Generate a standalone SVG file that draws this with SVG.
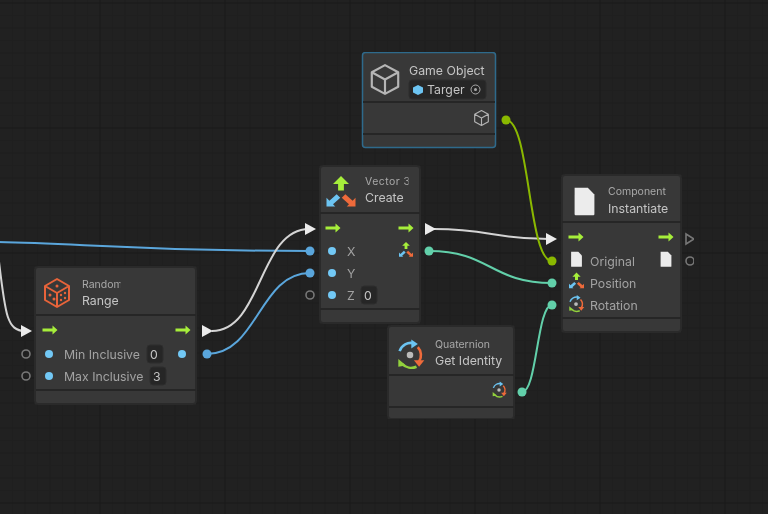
<svg xmlns="http://www.w3.org/2000/svg" width="768" height="514" viewBox="0 0 768 514">
<defs>
<style>
.bg{fill:#212121}
.node{fill:#393939;stroke:#2a2a2a;stroke-width:2}
.div{stroke:#252525;stroke-width:2}
.t{font-family:"Inter","Liberation Sans",sans-serif;fill:#c4c4c4;font-size:12.3px}
.s{font-family:"Inter","Liberation Sans",sans-serif;fill:#a8a8a8;font-size:10.5px}
.l{font-family:"Inter","Liberation Sans",sans-serif;fill:#a2a2a2;font-size:12.3px}
.box{fill:#272727;stroke:#2e2e2e}
.wire{fill:none;stroke-width:2}
.port{fill:#72c8f5}
.open{fill:none;stroke:#777;stroke-width:1.600}
.minor{stroke:#1f1f1f;stroke-width:1}
.major{stroke:#1b1b1b;stroke-width:1}
</style>
<filter id="soft" x="0" y="0" width="100%" height="100%"><feGaussianBlur stdDeviation="0.35"/></filter>
<clipPath id="clipV"><rect x="360" y="170" width="48.500" height="40"/></clipPath>
<clipPath id="clipR"><rect x="78" y="272" width="42.500" height="40"/></clipPath>
<g id="flow"><path d="M-7.500-1.500H2.500V-4.500L7.500 0L2.500 4.500V1.500H-7.500Z" fill="#a6ee3a"/></g>
<g id="v3"><path d="M0-10L-5.500-4.500H-2V0H2V-4.500H5.500Z" fill="#a6ee3a"/><path d="M-10 11V5L-8 7L-3 2.500L-.5 5L-5.500 9.500L-4 11Z" fill="#6cc4f2"/><path d="M10 11V5L8 7L3 2.500L.5 5L5.500 9.500L4 11Z" fill="#ee6a3a"/></g>
<g id="quat"><path d="M-8-3A9 9 0 0 1 3-9" fill="none" stroke="#6cc4f2" stroke-width="2"/><path d="M1-12L6-8.500L1-5Z" fill="#6cc4f2"/><path d="M6-6A9 9 0 0 1 7 5" fill="none" stroke="#ee6a3a" stroke-width="2"/><path d="M3 4L7 9L11 4Z" fill="#ee6a3a"/><path d="M5 9A10 10 0 0 1-6 7" fill="none" stroke="#92d13c" stroke-width="2"/><path d="M-9 3L-9 9L-3 8Z" fill="#92d13c"/><circle r="2.500" fill="#bbb"/></g>
<path id="doc" d="M-9-12H3L9-6V12Q9 13 8 13H-8Q-9 13-9 12Z" fill="#ececec"/>
<g id="cube" fill="none" stroke="#b5b5b5" stroke-linejoin="round"><path d="M0-12L11-6V6L0 12L-11 6V-6ZM-11-6L0 0L11-6M0 0V12"/></g>
</defs>
<rect class="bg" width="768" height="514"/>
<path class="minor" d="M12.500 0V514M25 0V514M37.500 0V514M50 0V514M62.500 0V514M75 0V514M87.500 0V514M112.500 0V514M125 0V514M137.500 0V514M150 0V514M162.500 0V514M175 0V514M187.500 0V514M200 0V514M212.500 0V514M237.500 0V514M250 0V514M262.500 0V514M275 0V514M287.500 0V514M300 0V514M312.500 0V514M325 0V514M337.500 0V514M362.500 0V514M375 0V514M387.500 0V514M400 0V514M412.500 0V514M425 0V514M437.500 0V514M450 0V514M462.500 0V514M487.500 0V514M500 0V514M512.500 0V514M525 0V514M537.500 0V514M550 0V514M562.500 0V514M575 0V514M587.500 0V514M612.500 0V514M625 0V514M637.500 0V514M650 0V514M662.500 0V514M675 0V514M687.500 0V514M700 0V514M712.500 0V514M737.500 0V514M750 0V514M762.500 0V514M0 15.500H768M0 28H768M0 40.500H768M0 53H768M0 65.500H768M0 78H768M0 90.500H768M0 103H768M0 115.500H768M0 140.500H768M0 153H768M0 165.500H768M0 178H768M0 190.500H768M0 203H768M0 215.500H768M0 228H768M0 240.500H768M0 265.500H768M0 278H768M0 290.500H768M0 303H768M0 315.500H768M0 328H768M0 340.500H768M0 353H768M0 365.500H768M0 390.500H768M0 403H768M0 415.500H768M0 428H768M0 440.500H768M0 453H768M0 465.500H768M0 478H768M0 490.500H768"/>
<path class="major" d="M100 0V514M225 0V514M350 0V514M475 0V514M600 0V514M725 0V514M0 3H768M0 128H768M0 253H768M0 378H768M0 503H768"/>
<g filter="url(#soft)">
<g id="connectors">
<path class="wire" stroke="#5aa6dc" d="M-2 242C80 243 130 251 310 251"/>
<path class="wire" stroke="#d4d4d4" d="M-3 245C5 310 5 331 25 331"/>
<path class="wire" stroke="#d4d4d4" d="M212 331C262 331 259 229 309 229"/>
<path class="wire" stroke="#5aa6dc" d="M207 354C258 354 259 273 310 273"/>
<path class="wire" stroke="#d4d4d4" d="M434 229C490 229 493 239 549 239"/>
<path class="wire" stroke="#62d0aa" d="M429 251C490 251 491 283 552 283"/>
<path class="wire" stroke="#8ab800" d="M506 120C530 120 528 261 552 261"/>
<path class="wire" stroke="#62d0aa" d="M522 392C537 392 537 305 552 305"/>
<g fill="#ebebeb"><path d="M21 325L32 331L21 337Z"/><path d="M202 325L213 331L202 337Z"/><path d="M305 223L316 229L305 235Z"/><path d="M425 223L436 229L425 235Z"/><path d="M546 233L557 239L546 245Z"/></g>
<g fill="#5aa6dc"><circle cx="310" cy="251" r="4.500"/><circle cx="310" cy="273" r="4.500"/><circle cx="207" cy="354" r="4.500"/></g>
<g fill="#62d0aa"><circle cx="429" cy="251" r="4.500"/><circle cx="552" cy="283" r="4.500"/><circle cx="552" cy="305" r="4.500"/><circle cx="522" cy="392" r="4.500"/></g>
<g fill="#8ab800"><circle cx="506" cy="120" r="4.500"/><circle cx="552" cy="261" r="4.500"/></g>
<g><circle class="open" cx="26" cy="354" r="4"/><circle class="open" cx="26" cy="376" r="4"/><circle class="open" cx="310" cy="295" r="4"/><circle class="open" cx="690" cy="261" r="4"/><path class="open" d="M686 234L694 239L686 244Z"/></g>
</g>
<g id="node-gameobject">
<rect x="362.500" y="52.500" width="133" height="95" rx="3" fill="#393939" stroke="#2f6a8c" stroke-width="1.500"/>
<path class="div" d="M363 102H495M363 134H495"/>
<use href="#cube" transform="translate(385 79.500) scale(1.200)" stroke-width="1.800"/>
<text class="t" x="409" y="75">Game Object</text>
<rect class="box" x="409" y="80" width="77" height="19" rx="3"/>
<path d="M418 85L423 87.500V92.500L418 95L413 92.500V87.500Z" fill="#6cc4f2"/>
<text class="t" x="427" y="94">Targer</text>
<circle cx="475.500" cy="89.500" r="4.500" fill="none" stroke="#a8a8a8"/><circle cx="475.500" cy="89.500" r="1.500" fill="#a8a8a8"/>
<use href="#cube" transform="translate(481.500 118) scale(.62)" stroke-width="1.800"/>
</g>
<g id="node-vector3">
<rect class="node" x="320" y="166" width="100" height="157" rx="3"/>
<path class="div" d="M320 213H420M320 309H420"/>
<use href="#v3" transform="translate(341 190.500) scale(1.450)"/>
<text class="s" x="365" y="185" letter-spacing=".45" clip-path="url(#clipV)">Vector 3</text>
<text class="t" x="365" y="202">Create</text>
<use href="#flow" transform="translate(333 228)"/>
<use href="#flow" transform="translate(406 228)"/>
<use href="#v3" transform="translate(406 249) scale(.7)"/>
<circle class="port" cx="332" cy="251" r="4"/><circle class="port" cx="332" cy="273" r="4"/><circle class="port" cx="332" cy="295" r="4"/>
<text class="l" x="347" y="256">X</text><text class="l" x="347" y="278">Y</text><text class="l" x="347" y="300">Z</text>
<rect class="box" x="361" y="286" width="16" height="18" rx="3"/>
<text class="t" x="364" y="300">0</text>
</g>
<g id="node-instantiate">
<rect class="node" x="562" y="175" width="119" height="157" rx="3"/>
<path class="div" d="M562 222H681M562 318H681"/>
<use href="#doc" transform="translate(584.500 201) scale(1.100)"/>
<text class="s" x="608" y="195">Component</text>
<text class="t" x="608" y="213">Instantiate</text>
<use href="#flow" transform="translate(576 237)"/>
<use href="#flow" transform="translate(666 237)"/>
<use href="#doc" transform="translate(576.500 259) scale(.6)"/>
<use href="#doc" transform="translate(666 259) scale(.6)"/>
<use href="#v3" transform="translate(576.500 280) scale(.75)"/>
<use href="#quat" transform="translate(576 304) scale(.75)"/>
<text class="l" x="590" y="266">Original</text><text class="l" x="590" y="288">Position</text><text class="l" x="590" y="310">Rotation</text>
</g>
<g id="node-random">
<rect class="node" x="35" y="267" width="161" height="137" rx="3"/>
<path class="div" d="M36 315H196M36 390H196"/>
<g transform="translate(57 293)"><path d="M0-14L12-7V7L0 14L-12 7V-7ZM-12-7L0 0L12-7M0 0V14" fill="none" stroke="#e8643a" stroke-width="2" stroke-linejoin="round"/><g fill="#e8643a"><circle cy="-7" r="1.500"/><circle cx="-7" cy="2" r="1.500"/><circle cx="-3" cy="6" r="1.500"/><circle cx="4" cy="2" r="1.200"/><circle cx="8" cy="0" r="1.200"/><circle cx="4" cy="7" r="1.200"/><circle cx="8" cy="5" r="1.200"/></g></g>
<text class="s" x="82" y="288" clip-path="url(#clipR)">Random</text>
<text class="t" x="82" y="305">Range</text>
<use href="#flow" transform="translate(50 330)"/>
<use href="#flow" transform="translate(183 330)"/>
<circle class="port" cx="49" cy="354" r="4"/><circle class="port" cx="49" cy="376" r="4"/><circle class="port" cx="182" cy="354" r="4"/>
<text class="l" x="64" y="359">Min Inclusive</text><text class="l" x="64" y="381">Max Inclusive</text>
<rect class="box" x="147" y="345" width="16" height="18" rx="3"/>
<rect class="box" x="150" y="367" width="16" height="18" rx="3"/>
<text class="t" x="150" y="359">0</text><text class="t" x="153" y="381">3</text>
</g>
<g id="node-quaternion">
<rect class="node" x="388" y="326" width="126" height="93" rx="3"/>
<path class="div" d="M389 375H514M389 407H514"/>
<use href="#quat" transform="translate(410 355) scale(1.300)"/>
<text class="s" x="435" y="348">Quaternion</text>
<text class="t" x="435" y="365">Get Identity</text>
<use href="#quat" transform="translate(499 390) scale(.7)"/>
</g>
</g>
</svg>
